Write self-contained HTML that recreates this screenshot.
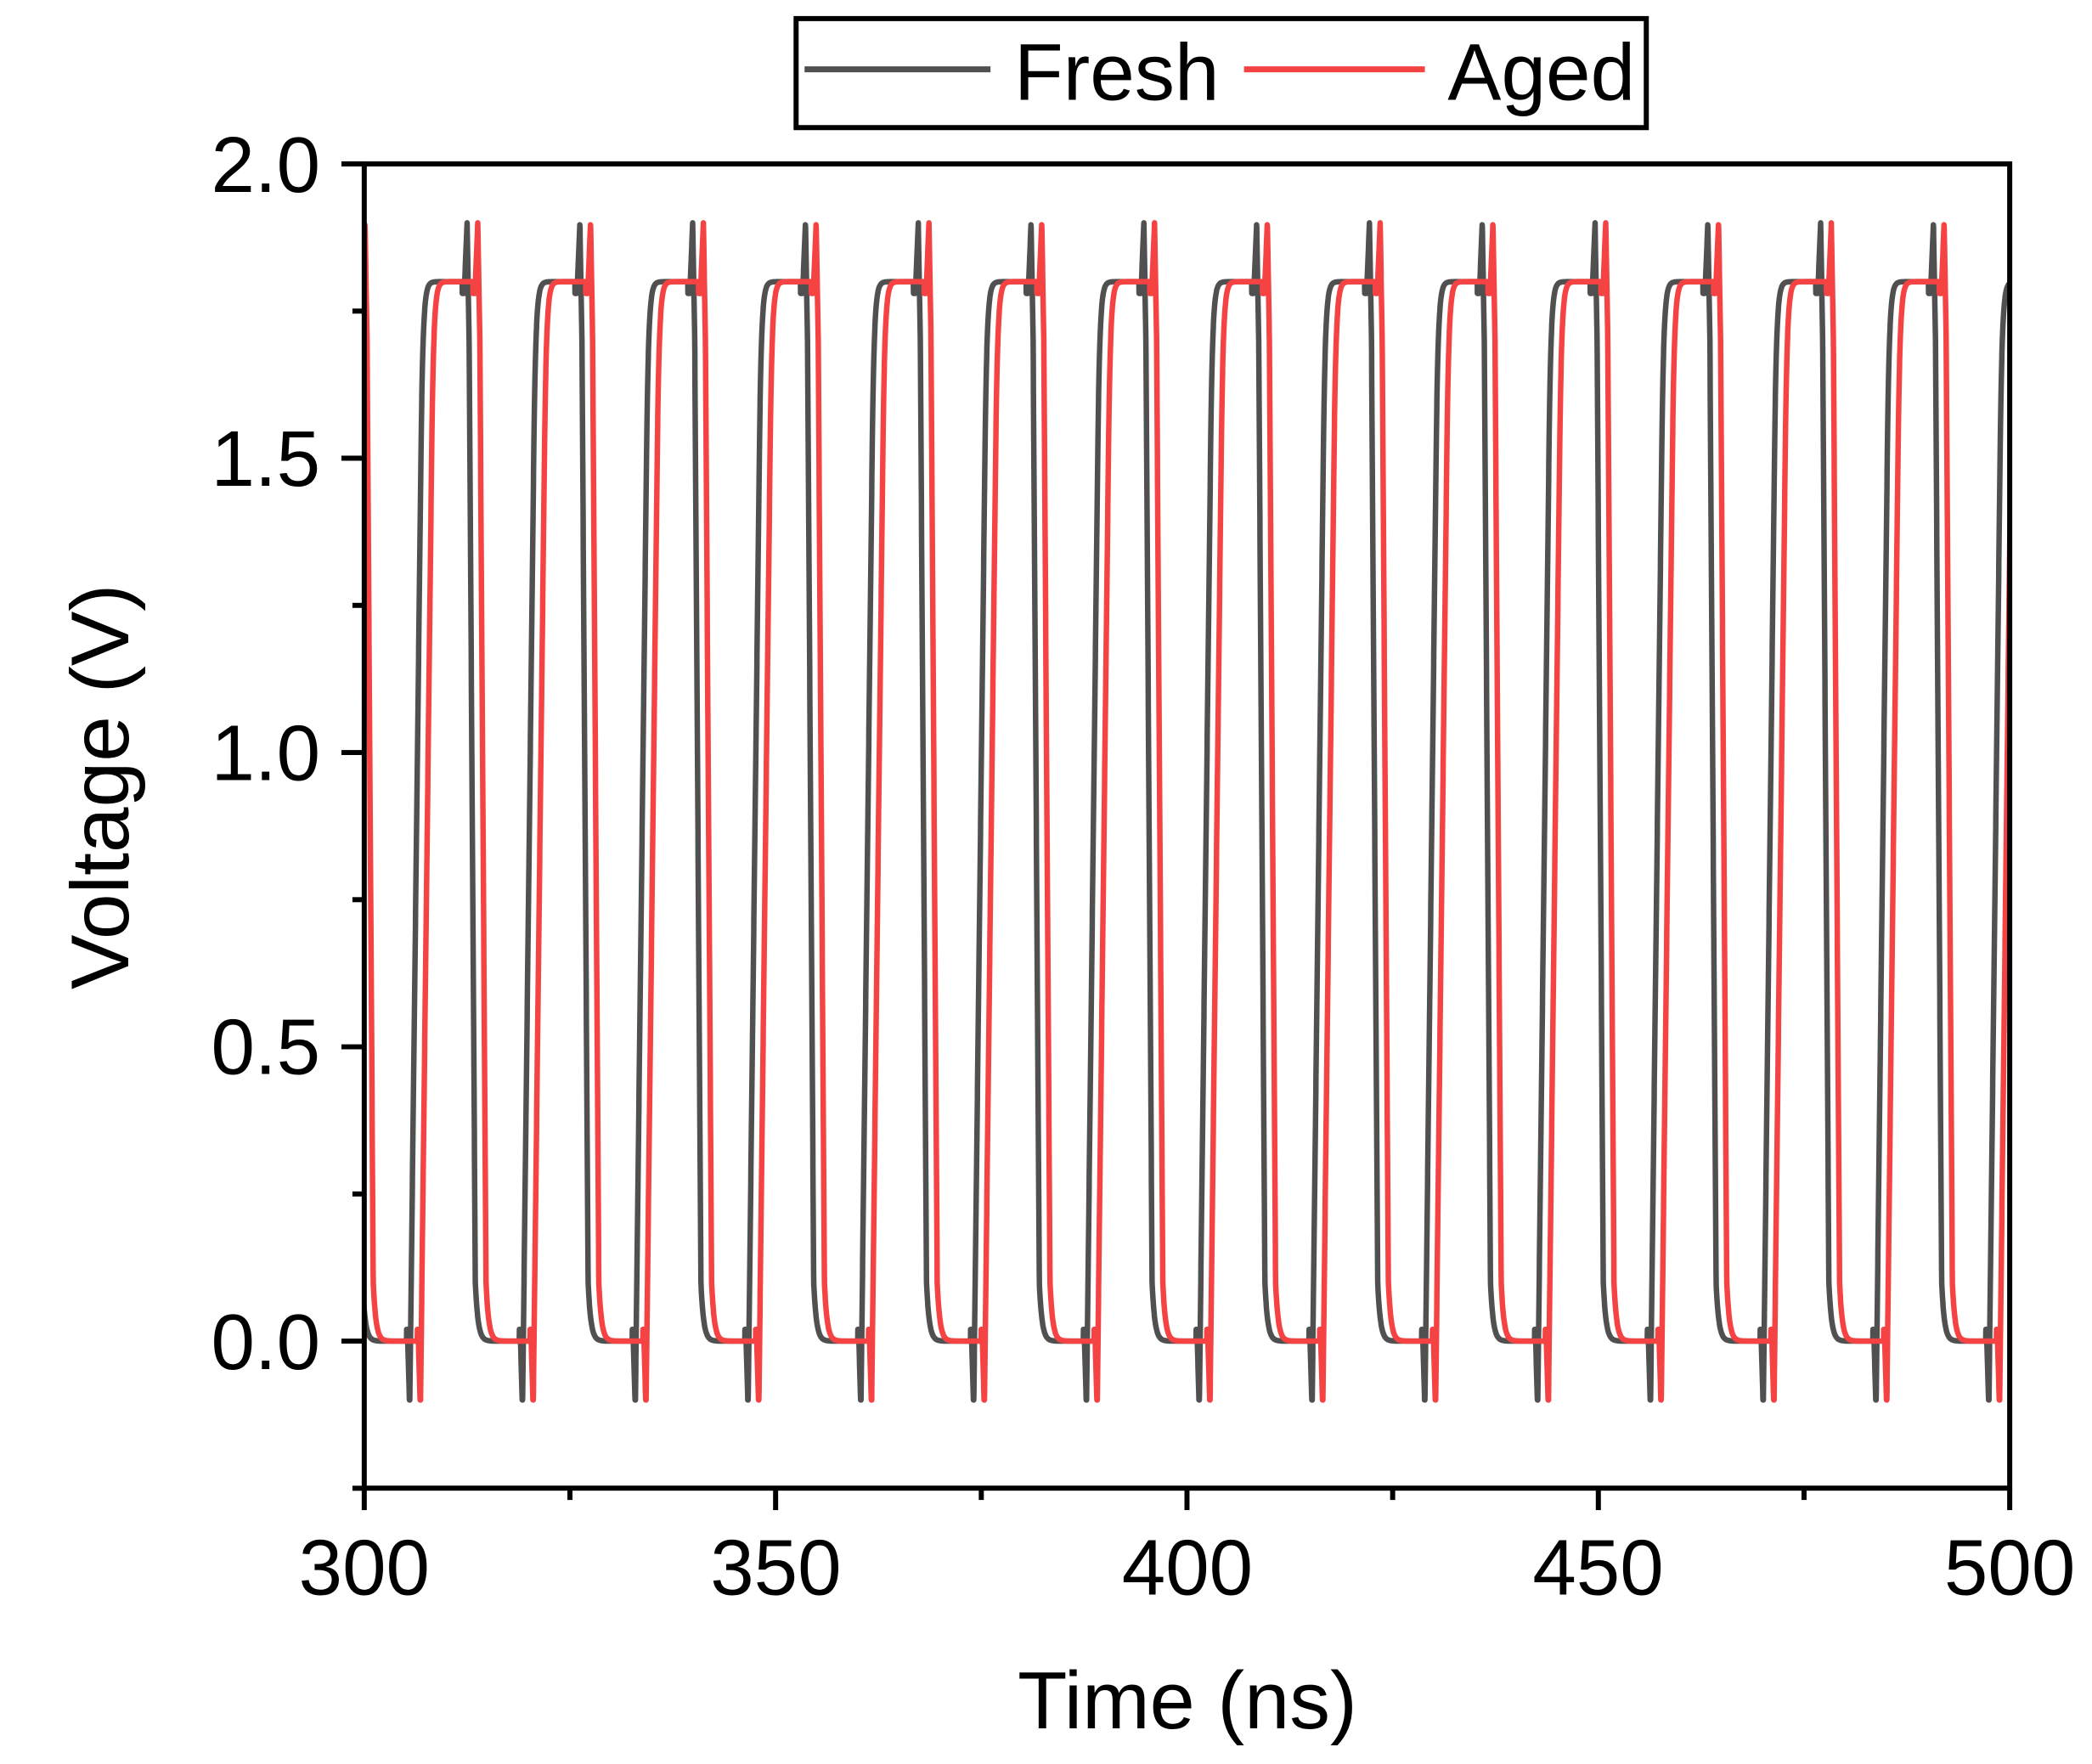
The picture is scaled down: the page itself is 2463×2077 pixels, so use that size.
<!DOCTYPE html>
<html><head><meta charset="utf-8"><style>
html,body{margin:0;padding:0;background:#fff}
svg{display:block}
text{font-family:"Liberation Sans",Arial,sans-serif;fill:#000}
</style></head><body>
<svg id="s" width="2463" height="2077" viewBox="0 0 2463 2077" xmlns="http://www.w3.org/2000/svg">
<defs><clipPath id="c"><rect x="431" y="194" width="1947" height="1567"/></clipPath></defs>
<g transform="scale(0.995)">
<g clip-path="url(#c)">
<path id="pf" fill="none" stroke="#505050" stroke-width="6.5" stroke-linejoin="round"/>
<path id="pa" fill="none" stroke="#f54242" stroke-width="6.5" stroke-linejoin="round"/>
</g>
<rect x="431" y="194" width="1947" height="1567" fill="none" stroke="#000" stroke-width="6"/>
<g id="ticks" stroke="#000" stroke-width="6"></g>
<g font-size="93" text-anchor="end">
<text x="379" y="227">2.0</text>
<text x="379" y="575">1.5</text>
<text x="379" y="923">1.0</text>
<text x="379" y="1271">0.5</text>
<text x="379" y="1620">0.0</text>
</g>
<g font-size="93" text-anchor="middle">
<text x="431" y="1887">300</text>
<text x="918" y="1887">350</text>
<text x="1405" y="1887">400</text>
<text x="1891" y="1887">450</text>
<text x="2378" y="1887">500</text>
</g>
<text x="1405" y="2045" font-size="96" text-anchor="middle">Time (ns)</text>
<text transform="translate(152,931) rotate(-90)" font-size="97" text-anchor="middle">Voltage (V)</text>
<rect x="942" y="22" width="1006" height="129" fill="#fff" stroke="#000" stroke-width="6"/>
<line x1="952" y1="82" x2="1172" y2="82" stroke="#505050" stroke-width="7"/>
<text x="1200" y="118" font-size="95">Fresh</text>
<line x1="1472" y1="82" x2="1686" y2="82" stroke="#f54242" stroke-width="7"/>
<text x="1713" y="118" font-size="95">Aged</text>
</g>
</svg>
<script>
(function(){
var X0=431,XS=(2378-431)/200,Y0=1587,YS=696.5;
var P=13.71,S0=312.5;
function shape(p){
 if(p<0.25) return 1.9-0.8*p;
 if(p<1.0) return 1.7-1.6*((p-0.25)/0.75);
 if(p<6.35) return 0.1*Math.exp(-(p-1.0)*3);
 if(p<6.45) return 0.02;
 if(p<6.7) return 0.02-0.12*((p-6.45)/0.25);
 if(p<6.75) return -0.1;
 if(p<8.1) return -0.1+1.6*((p-6.75)/1.35);
 var v=1.8-0.3*Math.exp(-(p-8.1)*4);
 if(p>P-0.6&&p<P-0.35) v-=0.02;
 if(p>=P-0.35) v=1.78+0.12*((p-(P-0.35))/0.35);
 return v;
}
function build(shift){
 var d="",first=true;
 for(var t=299.5;t<=500.5;t+=0.02){
  var p=((t-S0-shift)%P+P)%P;
  var x=X0+(t-300)*XS,y=Y0-shape(p)*YS;
  d+=(first?"M":"L")+x.toFixed(1)+" "+y.toFixed(1);first=false;
 }
 return d;
}
document.getElementById("pf").setAttribute("d",build(0));
document.getElementById("pa").setAttribute("d",build(1.3));
var g=document.getElementById("ticks"),ns="http://www.w3.org/2000/svg";
function ln(a,b,c,d){var l=document.createElementNS(ns,"line");l.setAttribute("x1",a);l.setAttribute("y1",b);l.setAttribute("x2",c);l.setAttribute("y2",d);g.appendChild(l);}
for(var i=0;i<=8;i++){var tt=300+i*25,x=X0+(tt-300)*XS;ln(x,1761,x,i%2?1775:1787);}
for(var j=-1;j<=8;j++){var vv=j*0.25,y=Y0-vv*YS;ln(431,y,(j%2)?417:404,y);}
})();
</script>
</body></html>
